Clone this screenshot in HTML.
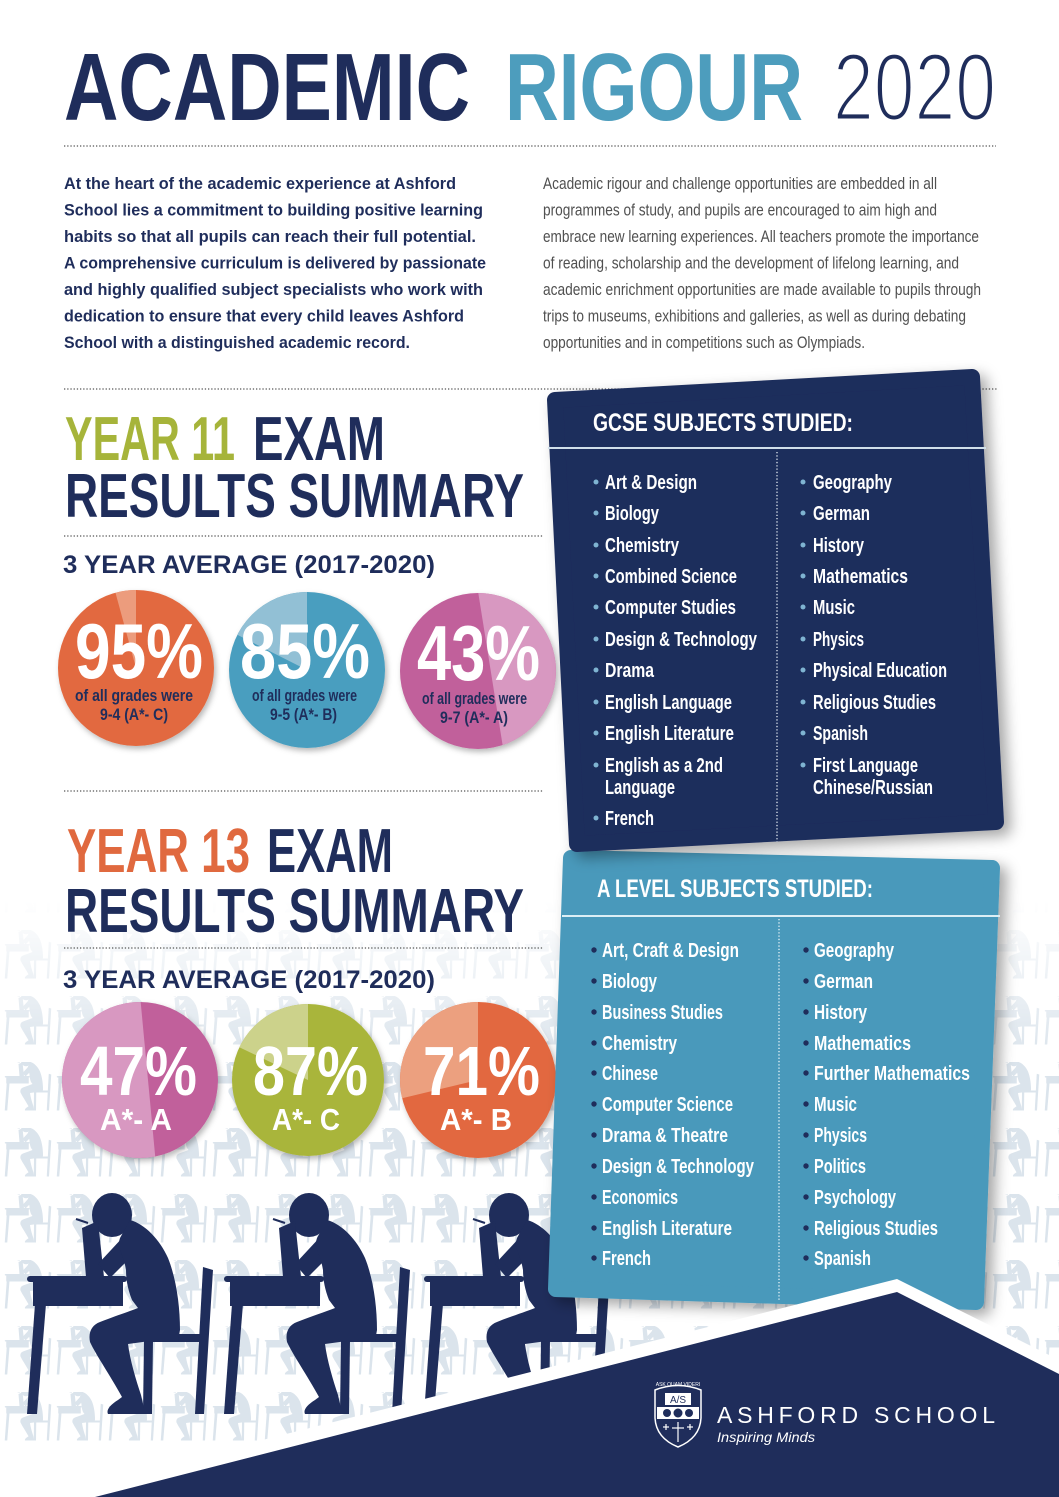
<!DOCTYPE html>
<html><head><meta charset="utf-8"><style>
html,body{margin:0;padding:0;background:#fff;}
svg{display:block;}
text{font-family:"Liberation Sans",Arial,sans-serif;}
</style></head><body>
<svg width="1059" height="1497" viewBox="0 0 1059 1497" xmlns="http://www.w3.org/2000/svg">
<defs>
  <g id="fig">
    <rect x="27" y="1276" width="100" height="6" rx="3"/>
    <rect x="33" y="1280" width="90" height="26"/>
    <polygon points="35,1304 46,1304 37,1414 27,1414"/>
    <polygon points="203,1267 213,1270 204,1414 195,1414"/>
    <rect x="145" y="1334" width="62" height="8" rx="2"/>
    <polygon points="144,1340 153,1340 152,1414 143,1414"/>
    <ellipse cx="112" cy="1215" rx="20" ry="22"/>
    <polygon points="82,1228 98,1221 104,1277 86,1277"/>
    <polygon points="98,1264 124,1236 142,1246 110,1278"/>
    <line x1="76" y1="1219" x2="88" y2="1223" stroke-width="2" stroke="currentColor"/>
    <path d="M120,1238 L130,1220 C145,1224 160,1240 168,1258 C176,1278 180,1305 180,1330 L178,1341 L150,1341 L128,1344 C130,1360 136,1380 141,1395 L144,1408 L144,1414 L108,1414 C106,1410 110,1405 118,1400 L122,1397 C110,1375 96,1355 90,1342 C88,1332 92,1325 100,1322 C115,1316 128,1312 138,1308 L132,1300 C128,1290 126,1280 126,1270 C124,1258 120,1250 118,1245 Z"/>
  </g>
  <pattern id="pat" patternUnits="userSpaceOnUse" x="4" y="930" width="52" height="66">
    <use href="#fig" fill="#dbe4ec" color="#dbe4ec" transform="translate(-6,-305) scale(0.25)"/>
  </pattern>
  <linearGradient id="pg" gradientUnits="userSpaceOnUse" x1="0" y1="900" x2="0" y2="1060">
    <stop offset="0" stop-color="#000"/>
    <stop offset="1" stop-color="#fff"/>
  </linearGradient>
  <mask id="pm"><rect x="0" y="900" width="1059" height="552" fill="url(#pg)"/></mask>
  <filter id="sh" x="-10%" y="-10%" width="125%" height="125%">
    <feDropShadow dx="7" dy="6" stdDeviation="7" flood-color="#000" flood-opacity="0.35"/>
  </filter>
  <filter id="csh" x="-20%" y="-20%" width="140%" height="140%">
    <feDropShadow dx="2" dy="3" stdDeviation="3" flood-color="#000" flood-opacity="0.28"/>
  </filter>
  <clipPath id="c1"><circle cx="136" cy="668" r="78"/></clipPath>
  <clipPath id="c2"><circle cx="307" cy="670" r="78"/></clipPath>
  <clipPath id="c3"><circle cx="478" cy="671" r="78"/></clipPath>
  <clipPath id="c4"><circle cx="140" cy="1080" r="78"/></clipPath>
  <clipPath id="c5"><circle cx="308" cy="1080" r="76"/></clipPath>
  <clipPath id="c6"><circle cx="478" cy="1080" r="78"/></clipPath>
</defs>

<!-- background pattern -->
<rect x="0" y="900" width="1059" height="552" fill="url(#pat)" mask="url(#pm)"/>

<!-- Title -->
<text x="64" y="120" font-size="96" font-weight="700" fill="#1f2d5b" textLength="406" lengthAdjust="spacingAndGlyphs">ACADEMIC</text>
<text x="505" y="120" font-size="96" font-weight="700" fill="#4d9dbd" textLength="298" lengthAdjust="spacingAndGlyphs">RIGOUR</text>
<text x="833" y="120" font-size="96" font-weight="400" fill="#1f2d5b" stroke="#fff" stroke-width="3" textLength="163" lengthAdjust="spacingAndGlyphs">2020</text>

<g stroke="#555" stroke-width="1.3" stroke-dasharray="1.3 1.9">
  <line x1="64" y1="146" x2="996" y2="146"/>
  <line x1="64" y1="389" x2="998" y2="389"/>
  <line x1="64" y1="536" x2="543" y2="536"/>
  <line x1="64" y1="791" x2="543" y2="791"/>
  <line x1="64" y1="948" x2="543" y2="948"/>
</g>

<!-- Intro left -->
<g font-size="17" font-weight="700" fill="#1f2d5b">
  <text x="64" y="189" textLength="392" lengthAdjust="spacingAndGlyphs">At the heart of the academic experience at Ashford</text>
  <text x="64" y="215.5" textLength="419" lengthAdjust="spacingAndGlyphs">School lies a commitment to building positive learning</text>
  <text x="64" y="242" textLength="412" lengthAdjust="spacingAndGlyphs">habits so that all pupils can reach their full potential.</text>
  <text x="64" y="268.5" textLength="422" lengthAdjust="spacingAndGlyphs">A comprehensive curriculum is delivered by passionate</text>
  <text x="64" y="295" textLength="419" lengthAdjust="spacingAndGlyphs">and highly qualified subject specialists who work with</text>
  <text x="64" y="321.5" textLength="400" lengthAdjust="spacingAndGlyphs">dedication to ensure that every child leaves Ashford</text>
  <text x="64" y="348" textLength="346" lengthAdjust="spacingAndGlyphs">School with a distinguished academic record.</text>
</g>
<!-- Intro right -->
<g font-size="16.5" font-weight="400" fill="#505050">
  <text x="543" y="189" textLength="394" lengthAdjust="spacingAndGlyphs">Academic rigour and challenge opportunities are embedded in all</text>
  <text x="543" y="215.5" textLength="394" lengthAdjust="spacingAndGlyphs">programmes of study, and pupils are encouraged to aim high and</text>
  <text x="543" y="242" textLength="436" lengthAdjust="spacingAndGlyphs">embrace new learning experiences. All teachers promote the importance</text>
  <text x="543" y="268.5" textLength="416" lengthAdjust="spacingAndGlyphs">of reading, scholarship and the development of lifelong learning, and</text>
  <text x="543" y="295" textLength="438" lengthAdjust="spacingAndGlyphs">academic enrichment opportunities are made available to pupils through</text>
  <text x="543" y="321.5" textLength="423" lengthAdjust="spacingAndGlyphs">trips to museums, exhibitions and galleries, as well as during debating</text>
  <text x="543" y="348" textLength="322" lengthAdjust="spacingAndGlyphs">opportunities and in competitions such as Olympiads.</text>
</g>

<!-- Year 11 heading -->
<g font-size="62" font-weight="700">
  <text x="65" y="460" fill="#a6b43a" textLength="170" lengthAdjust="spacingAndGlyphs">YEAR 11</text>
  <text x="253" y="460" fill="#1f2d5b" textLength="132" lengthAdjust="spacingAndGlyphs">EXAM</text>
  <text x="65" y="517" fill="#1f2d5b" textLength="459" lengthAdjust="spacingAndGlyphs">RESULTS SUMMARY</text>
</g>
<text x="63" y="573" font-size="25" font-weight="700" fill="#1f2d5b" textLength="372" lengthAdjust="spacingAndGlyphs">3 YEAR AVERAGE (2017-2020)</text>

<!-- Year 11 circles -->
<g filter="url(#csh)"><circle cx="136" cy="668" r="78" fill="#e2693f"/></g>
<polygon clip-path="url(#c1)" points="136,668 136,580 112,580" fill="#ec9c7d"/>
<g filter="url(#csh)"><circle cx="307" cy="670" r="78" fill="#4a9ebf"/></g>
<polygon clip-path="url(#c2)" points="307,670 307,580 220,580 220,626" fill="#92c0d5"/>
<g filter="url(#csh)"><circle cx="478" cy="671" r="78" fill="#c1609b"/></g>
<polygon clip-path="url(#c3)" points="477,585 560,585 560,760 505,760" fill="#d898c1"/>

<g font-weight="700" fill="#fff" font-size="78">
  <text x="75" y="678" textLength="128" lengthAdjust="spacingAndGlyphs">95%</text>
  <text x="240" y="678" textLength="130" lengthAdjust="spacingAndGlyphs">85%</text>
  <text x="417" y="680" textLength="123" lengthAdjust="spacingAndGlyphs">43%</text>
</g>
<g font-weight="700" fill="#1f2d5b" font-size="17">
  <text x="75" y="701" textLength="118" lengthAdjust="spacingAndGlyphs">of all grades were</text>
  <text x="100" y="720" textLength="68" lengthAdjust="spacingAndGlyphs">9-4 (A*- C)</text>
  <text x="252" y="701" textLength="105" lengthAdjust="spacingAndGlyphs">of all grades were</text>
  <text x="270" y="720" textLength="67" lengthAdjust="spacingAndGlyphs">9-5 (A*- B)</text>
  <text x="422" y="704" textLength="105" lengthAdjust="spacingAndGlyphs">of all grades were</text>
  <text x="440" y="723" textLength="68" lengthAdjust="spacingAndGlyphs">9-7 (A*- A)</text>
</g>

<!-- Year 13 heading -->
<g font-size="62" font-weight="700">
  <text x="67" y="872" fill="#e0693f" textLength="183" lengthAdjust="spacingAndGlyphs">YEAR 13</text>
  <text x="267" y="872" fill="#1f2d5b" textLength="126" lengthAdjust="spacingAndGlyphs">EXAM</text>
  <text x="65" y="932" fill="#1f2d5b" textLength="459" lengthAdjust="spacingAndGlyphs">RESULTS SUMMARY</text>
</g>
<text x="63" y="988" font-size="25" font-weight="700" fill="#1f2d5b" textLength="372" lengthAdjust="spacingAndGlyphs">3 YEAR AVERAGE (2017-2020)</text>

<!-- Year 13 circles -->
<g filter="url(#csh)"><circle cx="140" cy="1080" r="78" fill="#c1609b"/></g>
<polygon clip-path="url(#c4)" points="140,995 55,995 55,1165 156,1165" fill="#d898c1"/>
<g filter="url(#csh)"><circle cx="308" cy="1080" r="76" fill="#a9b53b"/></g>
<polygon clip-path="url(#c5)" points="308,1080 308,995 220,995 220,1038" fill="#ccd28b"/>
<g filter="url(#csh)"><circle cx="478" cy="1080" r="78" fill="#e2673f"/></g>
<polygon clip-path="url(#c6)" points="478,1080 478,995 395,995 395,1100" fill="#eca07f"/>

<g font-weight="700" fill="#fff">
  <text x="80" y="1095" font-size="70" textLength="117" lengthAdjust="spacingAndGlyphs">47%</text>
  <text x="253" y="1095" font-size="70" textLength="115" lengthAdjust="spacingAndGlyphs">87%</text>
  <text x="423" y="1095" font-size="70" textLength="117" lengthAdjust="spacingAndGlyphs">71%</text>
  <text x="100" y="1130" font-size="31" textLength="72" lengthAdjust="spacingAndGlyphs">A*- A</text>
  <text x="272" y="1130" font-size="31" textLength="68" lengthAdjust="spacingAndGlyphs">A*- C</text>
  <text x="440" y="1130" font-size="31" textLength="72" lengthAdjust="spacingAndGlyphs">A*- B</text>
</g>

<!-- Big silhouettes -->
<g fill="#1f2d5b" color="#1f2d5b">
  <use href="#fig"/>
  <use href="#fig" x="197"/>
  <use href="#fig" x="397"/>
</g>

<!-- A LEVEL box -->
<g filter="url(#sh)">
  <polygon points="571,858 992,868 976,1302 556,1289" fill="#4a99bb" stroke="#4a99bb" stroke-width="16" stroke-linejoin="round"/>
</g>
<line x1="562" y1="916" x2="1000" y2="916" stroke="#dbeef5" stroke-width="2"/>
<line x1="779" y1="919" x2="779" y2="1300" stroke="#e8f3f8" stroke-width="1.3" stroke-dasharray="1.3 2"/>
<text x="597" y="897" font-size="25" font-weight="700" fill="#fff" textLength="276" lengthAdjust="spacingAndGlyphs">A LEVEL SUBJECTS STUDIED:</text>
<g fill="#1f2d5b">
  <circle cx="594" cy="950" r="2.7"/><circle cx="594" cy="981" r="2.7"/><circle cx="594" cy="1012" r="2.7"/><circle cx="594" cy="1043" r="2.7"/><circle cx="594" cy="1073" r="2.7"/><circle cx="594" cy="1104" r="2.7"/><circle cx="594" cy="1135" r="2.7"/><circle cx="594" cy="1166" r="2.7"/><circle cx="594" cy="1197" r="2.7"/><circle cx="594" cy="1228" r="2.7"/><circle cx="594" cy="1258" r="2.7"/>
  <circle cx="806" cy="950" r="2.7"/><circle cx="806" cy="981" r="2.7"/><circle cx="806" cy="1012" r="2.7"/><circle cx="806" cy="1043" r="2.7"/><circle cx="806" cy="1073" r="2.7"/><circle cx="806" cy="1104" r="2.7"/><circle cx="806" cy="1135" r="2.7"/><circle cx="806" cy="1166" r="2.7"/><circle cx="806" cy="1197" r="2.7"/><circle cx="806" cy="1228" r="2.7"/><circle cx="806" cy="1258" r="2.7"/>
</g>
<g font-size="20" font-weight="700" fill="#fff">
  <text x="602" y="957" textLength="137" lengthAdjust="spacingAndGlyphs">Art, Craft &amp; Design</text>
  <text x="602" y="988" textLength="55" lengthAdjust="spacingAndGlyphs">Biology</text>
  <text x="602" y="1019" textLength="121" lengthAdjust="spacingAndGlyphs">Business Studies</text>
  <text x="602" y="1050" textLength="75" lengthAdjust="spacingAndGlyphs">Chemistry</text>
  <text x="602" y="1080" textLength="56" lengthAdjust="spacingAndGlyphs">Chinese</text>
  <text x="602" y="1111" textLength="131" lengthAdjust="spacingAndGlyphs">Computer Science</text>
  <text x="602" y="1142" textLength="126" lengthAdjust="spacingAndGlyphs">Drama &amp; Theatre</text>
  <text x="602" y="1173" textLength="152" lengthAdjust="spacingAndGlyphs">Design &amp; Technology</text>
  <text x="602" y="1204" textLength="76" lengthAdjust="spacingAndGlyphs">Economics</text>
  <text x="602" y="1235" textLength="130" lengthAdjust="spacingAndGlyphs">English Literature</text>
  <text x="602" y="1265" textLength="49" lengthAdjust="spacingAndGlyphs">French</text>
  <text x="814" y="957" textLength="80" lengthAdjust="spacingAndGlyphs">Geography</text>
  <text x="814" y="988" textLength="59" lengthAdjust="spacingAndGlyphs">German</text>
  <text x="814" y="1019" textLength="53" lengthAdjust="spacingAndGlyphs">History</text>
  <text x="814" y="1050" textLength="97" lengthAdjust="spacingAndGlyphs">Mathematics</text>
  <text x="814" y="1080" textLength="156" lengthAdjust="spacingAndGlyphs">Further Mathematics</text>
  <text x="814" y="1111" textLength="43" lengthAdjust="spacingAndGlyphs">Music</text>
  <text x="814" y="1142" textLength="53" lengthAdjust="spacingAndGlyphs">Physics</text>
  <text x="814" y="1173" textLength="52" lengthAdjust="spacingAndGlyphs">Politics</text>
  <text x="814" y="1204" textLength="82" lengthAdjust="spacingAndGlyphs">Psychology</text>
  <text x="814" y="1235" textLength="124" lengthAdjust="spacingAndGlyphs">Religious Studies</text>
  <text x="814" y="1265" textLength="57" lengthAdjust="spacingAndGlyphs">Spanish</text>
</g>

<!-- GCSE box -->
<g filter="url(#sh)">
  <polygon points="555,400 972,377 996,822 577,844" fill="#1f2d5b" stroke="#1f2d5b" stroke-width="16" stroke-linejoin="round"/>
</g>
<line x1="548" y1="448" x2="986" y2="448" stroke="#d0dfea" stroke-width="2"/>
<line x1="777" y1="452" x2="777" y2="842" stroke="#e0e8f0" stroke-width="1.3" stroke-dasharray="1.3 2"/>
<text x="593" y="431" font-size="25" font-weight="700" fill="#fff" textLength="260" lengthAdjust="spacingAndGlyphs">GCSE SUBJECTS STUDIED:</text>
<g fill="#7fb4d2">
  <circle cx="596" cy="482" r="2.5"/><circle cx="596" cy="513" r="2.5"/><circle cx="596" cy="545" r="2.5"/><circle cx="596" cy="576" r="2.5"/><circle cx="596" cy="607" r="2.5"/><circle cx="596" cy="639" r="2.5"/><circle cx="596" cy="670" r="2.5"/><circle cx="596" cy="702" r="2.5"/><circle cx="596" cy="733" r="2.5"/><circle cx="596" cy="765" r="2.5"/><circle cx="596" cy="818" r="2.5"/>
  <circle cx="803" cy="482" r="2.5"/><circle cx="803" cy="513" r="2.5"/><circle cx="803" cy="545" r="2.5"/><circle cx="803" cy="576" r="2.5"/><circle cx="803" cy="607" r="2.5"/><circle cx="803" cy="639" r="2.5"/><circle cx="803" cy="670" r="2.5"/><circle cx="803" cy="702" r="2.5"/><circle cx="803" cy="733" r="2.5"/><circle cx="803" cy="765" r="2.5"/>
</g>
<g font-size="20" font-weight="700" fill="#fff">
  <text x="605" y="489" textLength="92" lengthAdjust="spacingAndGlyphs">Art &amp; Design</text>
  <text x="605" y="520" textLength="54" lengthAdjust="spacingAndGlyphs">Biology</text>
  <text x="605" y="552" textLength="74" lengthAdjust="spacingAndGlyphs">Chemistry</text>
  <text x="605" y="583" textLength="132" lengthAdjust="spacingAndGlyphs">Combined Science</text>
  <text x="605" y="614" textLength="131" lengthAdjust="spacingAndGlyphs">Computer Studies</text>
  <text x="605" y="646" textLength="152" lengthAdjust="spacingAndGlyphs">Design &amp; Technology</text>
  <text x="605" y="677" textLength="49" lengthAdjust="spacingAndGlyphs">Drama</text>
  <text x="605" y="709" textLength="127" lengthAdjust="spacingAndGlyphs">English Language</text>
  <text x="605" y="740" textLength="129" lengthAdjust="spacingAndGlyphs">English Literature</text>
  <text x="605" y="772" textLength="118" lengthAdjust="spacingAndGlyphs">English as a 2nd</text>
  <text x="605" y="794" textLength="70" lengthAdjust="spacingAndGlyphs">Language</text>
  <text x="605" y="825" textLength="49" lengthAdjust="spacingAndGlyphs">French</text>
  <text x="813" y="489" textLength="79" lengthAdjust="spacingAndGlyphs">Geography</text>
  <text x="813" y="520" textLength="57" lengthAdjust="spacingAndGlyphs">German</text>
  <text x="813" y="552" textLength="51" lengthAdjust="spacingAndGlyphs">History</text>
  <text x="813" y="583" textLength="95" lengthAdjust="spacingAndGlyphs">Mathematics</text>
  <text x="813" y="614" textLength="42" lengthAdjust="spacingAndGlyphs">Music</text>
  <text x="813" y="646" textLength="51" lengthAdjust="spacingAndGlyphs">Physics</text>
  <text x="813" y="677" textLength="134" lengthAdjust="spacingAndGlyphs">Physical Education</text>
  <text x="813" y="709" textLength="123" lengthAdjust="spacingAndGlyphs">Religious Studies</text>
  <text x="813" y="740" textLength="55" lengthAdjust="spacingAndGlyphs">Spanish</text>
  <text x="813" y="772" textLength="105" lengthAdjust="spacingAndGlyphs">First Language</text>
  <text x="813" y="794" textLength="120" lengthAdjust="spacingAndGlyphs">Chinese/Russian</text>
</g>

<!-- Bottom band -->
<polygon points="897,1279 1059,1360 1059,1497 38,1497" fill="#fff"/>
<polygon points="897,1292 1059,1374 1059,1497 95,1497" fill="#1f2d5b"/>

<!-- Logo -->
<g>
  <text x="678" y="1386" font-size="5" fill="#fff" text-anchor="middle">ASK QUAM VIDERI</text>
  <path d="M655,1390 Q678,1381 701,1390 L701,1418 Q700,1438 678,1447 Q656,1438 655,1418 Z" fill="#1f2d5b" stroke="#fff" stroke-width="1.5"/>
  <rect x="665" y="1393" width="26" height="12" fill="#fff"/>
  <text x="678" y="1403" font-size="10" fill="#1f2d5b" text-anchor="middle" font-family="Liberation Serif, serif">A/S</text>
  <rect x="657" y="1407" width="42" height="12" fill="#fff"/>
  <circle cx="667" cy="1413" r="4" fill="#1f2d5b"/>
  <circle cx="678" cy="1413" r="4.5" fill="#1f2d5b"/>
  <circle cx="689" cy="1413" r="4" fill="#1f2d5b"/>
  <g stroke="#fff" stroke-width="1.2">
    <line x1="678" y1="1422" x2="678" y2="1442"/><line x1="672" y1="1428" x2="684" y2="1428"/>
    <line x1="666" y1="1424" x2="666" y2="1430"/><line x1="663" y1="1427" x2="669" y2="1427"/>
    <line x1="690" y1="1424" x2="690" y2="1430"/><line x1="687" y1="1427" x2="693" y2="1427"/>
  </g>
  <text x="717" y="1423" font-size="23" fill="#fff" textLength="278" lengthAdjust="spacing">ASHFORD SCHOOL</text>
  <text x="717" y="1442" font-size="14" font-style="italic" fill="#fff" textLength="98" lengthAdjust="spacingAndGlyphs">Inspiring Minds</text>
</g>
</svg>
</body></html>
